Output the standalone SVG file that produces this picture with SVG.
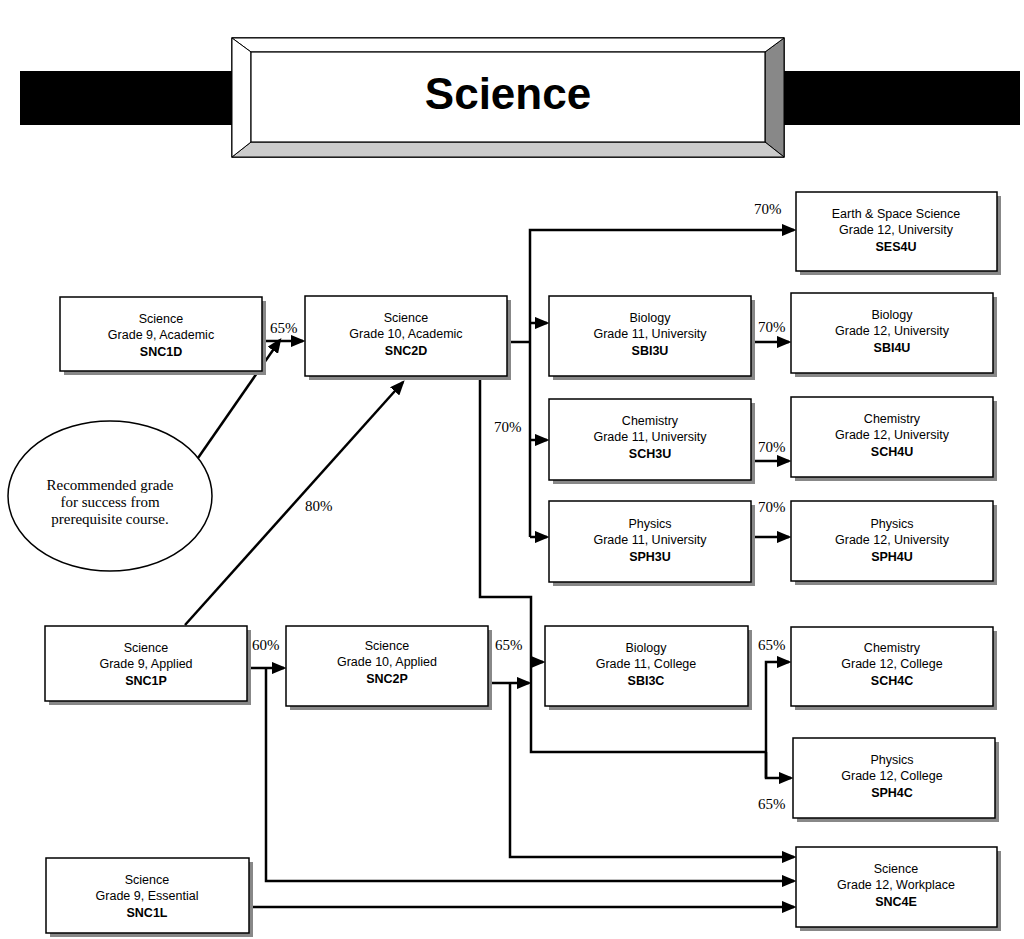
<svg xmlns="http://www.w3.org/2000/svg" width="1024" height="939" viewBox="0 0 1024 939">
<style>
.box{fill:#fff;stroke:#000;stroke-width:1.5}
.sh{fill:#888}
.t{font-family:"Liberation Sans",Arial,sans-serif;font-size:12.5px;text-anchor:middle}
.b{font-weight:bold}
.p{font-family:"Liberation Serif","Times New Roman",serif;font-size:15px}
.c{fill:none;stroke:#000;stroke-width:2.5}
</style>
<defs>
<marker id="a" markerWidth="6" markerHeight="5" refX="5" refY="2.5" orient="auto" markerUnits="strokeWidth"><path d="M0,0 L6,2.5 L0,5 Z" fill="#000"/></marker>
</defs>
<rect width="1024" height="939" fill="#fff"/>
<g id="title">
<rect x="20" y="71" width="214" height="54" fill="#000"/>
<rect x="782" y="71" width="238" height="54" fill="#000"/>
<rect x="232" y="38" width="552" height="119" fill="#fff" stroke="#000" stroke-width="1.5"/>
<polygon points="765,52 784,38 784,157 765,142" fill="#888" stroke="#000"/>
<polygon points="251,142 765,142 784,157 232,157" fill="#ccc" stroke="#000"/>
<polygon points="232,38 251,52 765,52 784,38" fill="#fff" stroke="#000"/>
<polygon points="232,38 251,52 251,142 232,157" fill="#fff" stroke="#000"/>
<rect x="251" y="52" width="514" height="90" fill="#fff" stroke="#000" stroke-width="1.2"/>
<text x="508" y="109" font-family="Liberation Sans,Arial,sans-serif" font-size="44" font-weight="bold" text-anchor="middle">Science</text>
</g>
<g id="legend">
<ellipse cx="110" cy="496" rx="102" ry="75" fill="#fff" stroke="#000" stroke-width="1.5"/>
<text class="p" x="110" y="490" text-anchor="middle" font-size="13.5">Recommended  grade</text>
<text class="p" x="110" y="507" text-anchor="middle" font-size="13.5">for success from</text>
<text class="p" x="110" y="524" text-anchor="middle" font-size="13.5">prerequisite course.</text>
</g>
<g id="connectors">
<path class="c" d="M262,341 H303" marker-end="url(#a)"/>
<path class="c" d="M198,458 L280,340" marker-end="url(#a)"/>
<path class="c" d="M185,625 L403,382" marker-end="url(#a)"/>
<path class="c" d="M507,342 H530"/>
<path class="c" d="M530,537 V230 H794" marker-end="url(#a)"/>
<path class="c" d="M530,323 H547" marker-end="url(#a)"/>
<path class="c" d="M530,440 H547" marker-end="url(#a)"/>
<path class="c" d="M530,537 H547" marker-end="url(#a)"/>
<path class="c" d="M751,342 H789" marker-end="url(#a)"/>
<path class="c" d="M751,461 H789" marker-end="url(#a)"/>
<path class="c" d="M751,537 H789" marker-end="url(#a)"/>
<path class="c" d="M480,376 V597 H531 V752 H766"/>
<path class="c" d="M531,662 H543" marker-end="url(#a)"/>
<path class="c" d="M766,778 V662 H789" marker-end="url(#a)"/>
<path class="c" d="M766,752 V778 H791" marker-end="url(#a)"/>
<path class="c" d="M488,683 H529" marker-end="url(#a)"/>
<path class="c" d="M510,683 V857 H794" marker-end="url(#a)"/>
<path class="c" d="M247,668 H284" marker-end="url(#a)"/>
<path class="c" d="M266,668 V881 H794" marker-end="url(#a)"/>
<path class="c" d="M249,907 H794" marker-end="url(#a)"/>
</g>
<g id="labels">
<text class="p" x="270" y="333">65%</text>
<text class="p" x="305" y="511">80%</text>
<text class="p" x="754" y="214">70%</text>
<text class="p" x="494" y="432">70%</text>
<text class="p" x="758" y="332">70%</text>
<text class="p" x="758" y="452">70%</text>
<text class="p" x="758" y="512">70%</text>
<text class="p" x="252" y="650">60%</text>
<text class="p" x="495" y="650">65%</text>
<text class="p" x="758" y="650">65%</text>
<text class="p" x="758" y="809">65%</text>
</g>
<g id="SNC1D"><rect class="sh" x="64" y="301" width="202" height="74"/><rect class="box" x="60" y="297" width="202" height="74"/><text class="t" x="161" y="323">Science</text><text class="t" x="161" y="339">Grade 9, Academic</text><text class="t b" x="161" y="356">SNC1D</text></g>
<g id="SNC2D"><rect class="sh" x="309" y="300" width="202" height="80"/><rect class="box" x="305" y="296" width="202" height="80"/><text class="t" x="406" y="322">Science</text><text class="t" x="406" y="338">Grade 10, Academic</text><text class="t b" x="406" y="355">SNC2D</text></g>
<g id="SES4U"><rect class="sh" x="800" y="196" width="201" height="79"/><rect class="box" x="796" y="192" width="201" height="79"/><text class="t" x="896" y="218">Earth &amp; Space Science</text><text class="t" x="896" y="234">Grade 12, University</text><text class="t b" x="896" y="251">SES4U</text></g>
<g id="SBI3U"><rect class="sh" x="553" y="300" width="202" height="80"/><rect class="box" x="549" y="296" width="202" height="80"/><text class="t" x="650" y="322">Biology</text><text class="t" x="650" y="338">Grade 11, University</text><text class="t b" x="650" y="355">SBI3U</text></g>
<g id="SBI4U"><rect class="sh" x="795" y="297" width="202" height="80"/><rect class="box" x="791" y="293" width="202" height="80"/><text class="t" x="892" y="319">Biology</text><text class="t" x="892" y="335">Grade 12, University</text><text class="t b" x="892" y="352">SBI4U</text></g>
<g id="SCH3U"><rect class="sh" x="553" y="403" width="202" height="81"/><rect class="box" x="549" y="399" width="202" height="81"/><text class="t" x="650" y="425">Chemistry</text><text class="t" x="650" y="441">Grade 11, University</text><text class="t b" x="650" y="458">SCH3U</text></g>
<g id="SCH4U"><rect class="sh" x="795" y="401" width="202" height="80"/><rect class="box" x="791" y="397" width="202" height="80"/><text class="t" x="892" y="423">Chemistry</text><text class="t" x="892" y="439">Grade 12, University</text><text class="t b" x="892" y="456">SCH4U</text></g>
<g id="SPH3U"><rect class="sh" x="553" y="505" width="202" height="81"/><rect class="box" x="549" y="501" width="202" height="81"/><text class="t" x="650" y="528">Physics</text><text class="t" x="650" y="544">Grade 11, University</text><text class="t b" x="650" y="561">SPH3U</text></g>
<g id="SPH4U"><rect class="sh" x="795" y="505" width="202" height="80"/><rect class="box" x="791" y="501" width="202" height="80"/><text class="t" x="892" y="528">Physics</text><text class="t" x="892" y="544">Grade 12, University</text><text class="t b" x="892" y="561">SPH4U</text></g>
<g id="SNC1P"><rect class="sh" x="49" y="630" width="202" height="75"/><rect class="box" x="45" y="626" width="202" height="75"/><text class="t" x="146" y="652">Science</text><text class="t" x="146" y="668">Grade 9, Applied</text><text class="t b" x="146" y="685">SNC1P</text></g>
<g id="SNC2P"><rect class="sh" x="290" y="630" width="202" height="80"/><rect class="box" x="286" y="626" width="202" height="80"/><text class="t" x="387" y="650">Science</text><text class="t" x="387" y="666">Grade 10, Applied</text><text class="t b" x="387" y="683">SNC2P</text></g>
<g id="SBI3C"><rect class="sh" x="549" y="630" width="203" height="80"/><rect class="box" x="545" y="626" width="203" height="80"/><text class="t" x="646" y="652">Biology</text><text class="t" x="646" y="668">Grade 11, College</text><text class="t b" x="646" y="685">SBI3C</text></g>
<g id="SCH4C"><rect class="sh" x="795" y="631" width="202" height="79"/><rect class="box" x="791" y="627" width="202" height="79"/><text class="t" x="892" y="652">Chemistry</text><text class="t" x="892" y="668">Grade 12, College</text><text class="t b" x="892" y="685">SCH4C</text></g>
<g id="SPH4C"><rect class="sh" x="797" y="742" width="202" height="80"/><rect class="box" x="793" y="738" width="202" height="80"/><text class="t" x="892" y="764">Physics</text><text class="t" x="892" y="780">Grade 12, College</text><text class="t b" x="892" y="797">SPH4C</text></g>
<g id="SNC4E"><rect class="sh" x="800" y="851" width="201" height="80"/><rect class="box" x="796" y="847" width="201" height="80"/><text class="t" x="896" y="873">Science</text><text class="t" x="896" y="889">Grade 12, Workplace</text><text class="t b" x="896" y="906">SNC4E</text></g>
<g id="SNC1L"><rect class="sh" x="50" y="862" width="203" height="75"/><rect class="box" x="46" y="858" width="203" height="75"/><text class="t" x="147" y="884">Science</text><text class="t" x="147" y="900">Grade 9, Essential</text><text class="t b" x="147" y="917">SNC1L</text></g>
</svg>
